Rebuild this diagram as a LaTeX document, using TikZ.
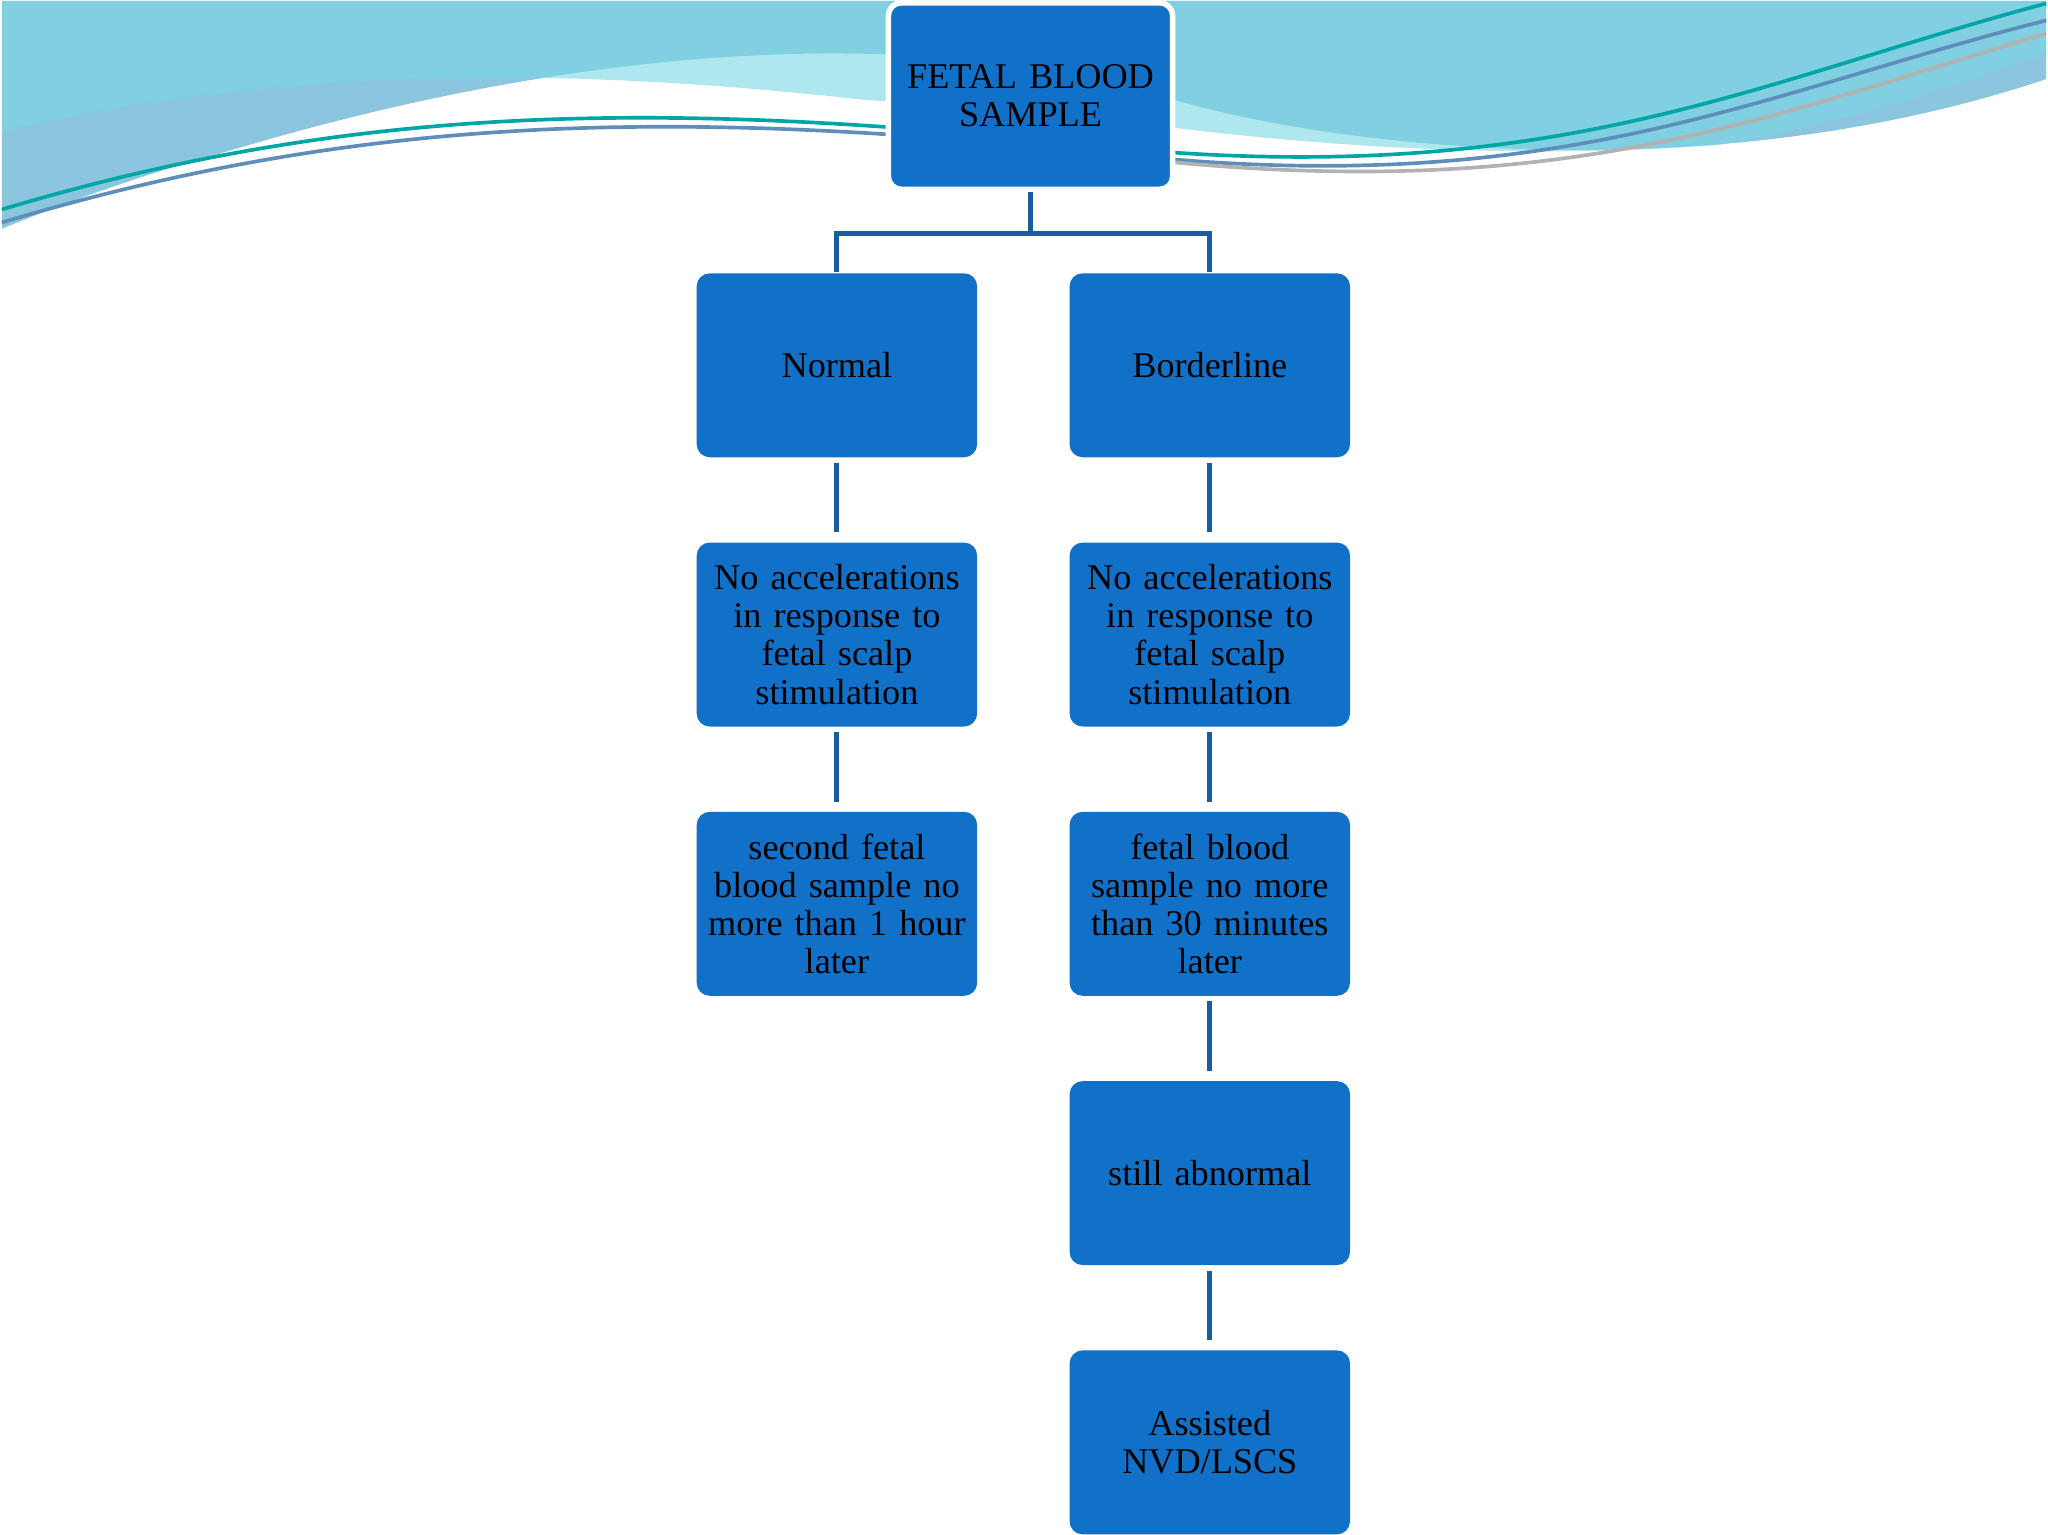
\documentclass[tikz,border=0pt]{standalone}
\usepackage{fontspec}
\setmainfont{Liberation Serif}
\usetikzlibrary{positioning}
\definecolor{boxblue}{HTML}{1170C8}
\definecolor{linkblue}{HTML}{1A5D9E}
\definecolor{wavea}{HTML}{8CC6DE}
\definecolor{waveb}{HTML}{7AD8E4}
\tikzstyle{block} = [rectangle, rounded corners=0.1cm, fill=boxblue, minimum width=2.15cm, minimum height=1.41cm, text width=2.12cm, align=center, font=\fontsize{7.9}{8.3}\selectfont, inner sep=0pt]
\tikzstyle{link} = [draw=linkblue, line width=1.1pt]
\begin{document}
\begin{tikzpicture}[x=0.01cm, y=-0.01cm, node distance = 0.64cm]
		\fill[white] (0,0) rectangle (1568,1176);
		% background waves
		\fill[wavea] (0,0) -- (1568,0) -- (1568,60) .. controls (1300,150) and (1000,110) .. (880,70) .. controls (700,20) and (400,20) .. (0,175) -- cycle;
		\fill[waveb, opacity=0.6] (0,100) .. controls (300,30) and (600,60) .. (900,110) .. controls (1200,160) and (1400,100) .. (1568,40) -- (1568,0) -- (0,0) -- cycle;
		\fill[white] (0,175) .. controls (300,50) and (550,60) .. (880,95) .. controls (1150,130) and (1400,120) .. (1568,65) -- (1568,90) .. controls (1300,150) and (1000,140) .. (880,130) .. controls (500,100) and (300,100) .. (0,200) -- cycle;
		\draw[teal!70!cyan, thick] (0,160) .. controls (300,70) and (550,80) .. (880,115) .. controls (1200,140) and (1350,60) .. (1568,2);
		\draw[linkblue!70, thick] (0,170) .. controls (300,80) and (550,85) .. (880,120) .. controls (1200,150) and (1350,70) .. (1568,15);
		\draw[gray!60, thick] (880,122) .. controls (1200,155) and (1350,90) .. (1568,25);

		\node (Sample) [block, draw=white, line width=1.2pt, minimum width=2.18cm, minimum height=1.43cm] at (789,73) {FETAL BLOOD\\SAMPLE};
		\node (Normal) [block] at (640.5,279.5) {Normal};
		\node (Border) [block] at (926.5,279.5) {Borderline};
		\node (NormalAcc) [block, below = of Normal] {No accelerations\\in response to\\fetal scalp\\stimulation};
		\node (BorderAcc) [block, below = of Border] {No accelerations\\in response to\\fetal scalp\\stimulation};
		\node (NormalRepeat) [block, below = of NormalAcc] {second fetal\\blood sample no\\more than 1 hour\\later};
		\node (BorderRepeat) [block, below = of BorderAcc] {fetal blood\\sample no more\\than 30 minutes\\later};
		\node (Abnormal) [block, below = of BorderRepeat] {still abnormal};
		\node (Delivery) [block, below = of Abnormal] {Assisted\\NVD/LSCS};

		\draw[link] (Sample.south) -- ++(0,32) -| (Normal.north);
		\draw[link] (Sample.south) -- ++(0,32) -| (Border.north);
		\draw[link, shorten <=1pt, shorten >=2pt] (Normal) -- (NormalAcc);
		\draw[link, shorten <=1pt, shorten >=2pt] (NormalAcc) -- (NormalRepeat);
		\draw[link, shorten <=1pt, shorten >=2pt] (Border) -- (BorderAcc);
		\draw[link, shorten <=1pt, shorten >=2pt] (BorderAcc) -- (BorderRepeat);
		\draw[link, shorten <=1pt, shorten >=2pt] (BorderRepeat) -- (Abnormal);
		\draw[link, shorten <=1pt, shorten >=2pt] (Abnormal) -- (Delivery);
		\useasboundingbox (0,0) rectangle (1568,1176);
\end{tikzpicture}
\end{document}
